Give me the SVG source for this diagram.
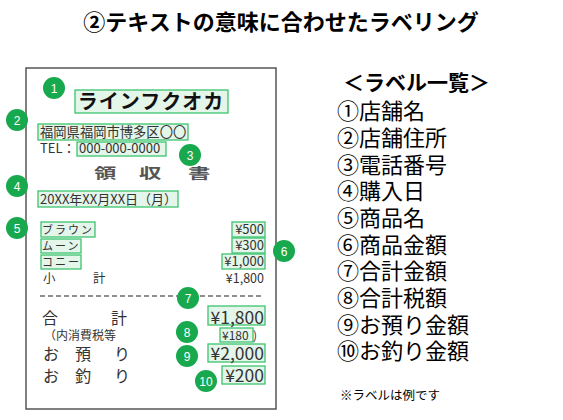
<svg xmlns="http://www.w3.org/2000/svg" width="563" height="420" viewBox="0 0 563 420">
<style>
.jp{font-family:"Noto Sans CJK JP","Noto Sans",sans-serif;}
.title{font-size:22px;font-weight:bold;fill:#000;}
.rc{fill:#333;}
.hl{fill:#e4f5ea;stroke:#3cc46e;stroke-width:1.3;}
.badge circle{fill:#18a94f;}
.badge text{fill:#fff;font-family:"Liberation Sans",Arial,sans-serif;font-size:12px;text-anchor:middle;}
</style>
<rect width="563" height="420" fill="#fff"/>
<text class="jp title" x="281" y="30" text-anchor="middle">②テキストの意味に合わせたラベリング</text>

<g id="receipt">
<rect x="26" y="68" width="250" height="341" fill="#fff" stroke="#555" stroke-width="1.5"/>
</g>

<g id="highlights">
<rect class="hl" x="75" y="90" width="153" height="23"/>
<rect class="hl" x="38" y="124" width="150" height="16"/>
<rect class="hl" x="77" y="142" width="89" height="14"/>
<rect class="hl" x="38" y="191" width="140" height="16"/>
<rect class="hl" x="41" y="222" width="54" height="15"/>
<rect class="hl" x="41" y="239" width="40" height="14"/>
<rect class="hl" x="41" y="255" width="40" height="14"/>
<rect class="hl" x="232" y="222" width="33" height="15"/>
<rect class="hl" x="232" y="238" width="33" height="15"/>
<rect class="hl" x="222" y="254" width="43" height="15"/>
<rect class="hl" x="208" y="306" width="57" height="19"/>
<rect class="hl" x="220" y="328" width="33" height="14"/>
<rect class="hl" x="208" y="344" width="57" height="18"/>
<rect class="hl" x="222" y="366" width="43" height="18"/>
</g>

<g id="receipt-text" class="jp rc">
<text x="151" y="109" text-anchor="middle" font-size="20" font-weight="bold" letter-spacing="1" fill="#111">ラインフクオカ</text>
<text x="40" y="137" font-size="13.3">福岡県福岡市博多区〇〇</text>
<text x="40" y="153" font-size="13">TEL：<tspan x="79">000-000-0000</tspan></text>
<text transform="translate(94,178) scale(1.6,1)" font-size="14" font-weight="bold" fill="#555">領</text>
<text transform="translate(139,178) scale(1.6,1)" font-size="14" font-weight="bold" fill="#555">収</text>
<text transform="translate(188,178) scale(1.6,1)" font-size="14" font-weight="bold" fill="#555">書</text>
<text x="40" y="204" font-size="13">20XX年XX月XX日（月）</text>
<text font-size="11" letter-spacing="2"><tspan x="42" y="234">ブラウン</tspan><tspan x="42" y="250">ムーン</tspan><tspan x="42" y="266">コニー</tspan></text>
<text font-size="13" text-anchor="end"><tspan x="264" y="234">¥500</tspan><tspan x="264" y="250">¥300</tspan><tspan x="264" y="266">¥1,000</tspan></text>
<text y="283" font-size="12.5"><tspan x="43">小</tspan><tspan x="93">計</tspan><tspan x="264" text-anchor="end">¥1,800</tspan></text>
<line x1="40" y1="296" x2="264" y2="296" stroke="#222" stroke-width="1.2" stroke-dasharray="5,3"/>
<text y="324" font-size="16"><tspan x="42">合</tspan><tspan x="111">計</tspan><tspan x="264" font-size="17.5" text-anchor="end">¥1,800</tspan></text>
<text y="340" font-size="12"><tspan x="44">（内消費税等</tspan><tspan x="222">¥180</tspan><tspan x="253">)</tspan></text>
<text y="360" font-size="16"><tspan x="43">お</tspan><tspan x="75">預</tspan><tspan x="114">り</tspan><tspan x="264" font-size="17.5" text-anchor="end">¥2,000</tspan></text>
<text y="382" font-size="16"><tspan x="43">お</tspan><tspan x="75">釣</tspan><tspan x="114">り</tspan><tspan x="264" font-size="17.5" text-anchor="end">¥200</tspan></text>
</g>

<g id="badges">
<g id="b1" class="badge"><circle cx="54" cy="88" r="11"/><text x="54" y="92.5">1</text></g>
<g id="b2" class="badge"><circle cx="17" cy="120" r="11"/><text x="17" y="124.5">2</text></g>
<g id="b3" class="badge"><circle cx="190" cy="155" r="11"/><text x="190" y="159.5">3</text></g>
<g id="b4" class="badge"><circle cx="17" cy="186" r="11"/><text x="17" y="190.5">4</text></g>
<g id="b5" class="badge"><circle cx="17" cy="228" r="11"/><text x="17" y="232.5">5</text></g>
<g id="b6" class="badge"><circle cx="284" cy="251" r="11"/><text x="284" y="255.5">6</text></g>
<g id="b7" class="badge"><circle cx="188" cy="298" r="11"/><text x="188" y="302.5">7</text></g>
<g id="b8" class="badge"><circle cx="187" cy="332" r="11"/><text x="187" y="336.5">8</text></g>
<g id="b9" class="badge"><circle cx="187" cy="356" r="11"/><text x="187" y="360.5">9</text></g>
<g id="b10" class="badge"><circle cx="206" cy="381" r="11"/><text x="206" y="385.5">10</text></g>
</g>

<g id="legend" class="jp">
<text x="343" y="90" font-size="21" font-weight="bold">＜ラベル一覧＞</text>
<text font-size="22" fill="#000"><tspan x="337" y="119">①店舗名</tspan><tspan x="337" y="146">②店舗住所</tspan><tspan x="337" y="173">③電話番号</tspan><tspan x="337" y="199">④購入日</tspan><tspan x="337" y="226">⑤商品名</tspan><tspan x="337" y="253">⑥商品金額</tspan><tspan x="337" y="279">⑦合計金額</tspan><tspan x="337" y="306">⑧合計税額</tspan><tspan x="337" y="333">⑨お預り金額</tspan><tspan x="337" y="359">⑩お釣り金額</tspan></text>
<text x="340" y="400" font-size="12.5">※ラベルは例です</text>
</g>
</svg>
